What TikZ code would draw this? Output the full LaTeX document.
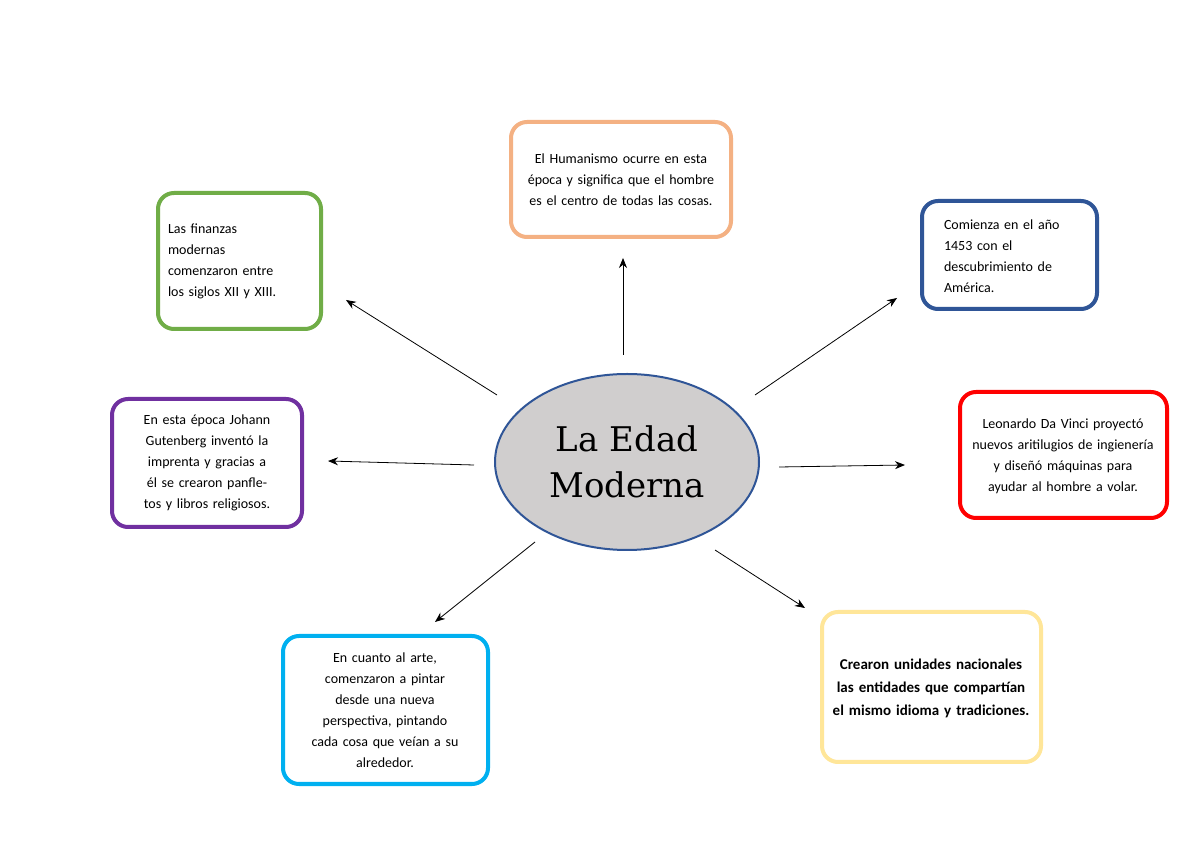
\documentclass[tikz,border=0pt]{standalone}
\usepackage{fontspec}
\setmainfont{Carlito}
\newfontfamily\serifbig{DejaVu Serif}
\usetikzlibrary{arrows.meta,shapes.geometric}
\definecolor{corange}{HTML}{F4B183}
\definecolor{cgreen}{HTML}{70AD47}
\definecolor{cdblue}{HTML}{2F5597}
\definecolor{cred}{HTML}{FF0000}
\definecolor{cpurple}{HTML}{7030A0}
\definecolor{ccyan}{HTML}{00B0F0}
\definecolor{cyellow}{HTML}{FFE699}
\definecolor{cgray}{HTML}{D0CECE}
\tikzset{
 box/.style={draw,line width=2pt,rounded corners=8pt,inner sep=0pt},
 txt/.style={font=\fontsize{7}{10.5}\selectfont,align=center},
 arr/.style={-{Stealth[length=5pt,width=4pt]},line width=0.4pt}
}
\begin{document}
\begin{tikzpicture}[x=0.5pt,y=-0.5pt]
\useasboundingbox (0,0) rectangle (1200,849);
\fill[white] (0,0) rectangle (1200,849);
\node[draw=cdblue,line width=1pt,fill=cgray,ellipse,minimum width=132pt,minimum height=88pt,inner sep=0pt,align=center,font=\serifbig\fontsize{17}{23}\selectfont] (c) at (627,462) {La Edad\\Moderna};

\draw[box,draw=corange] (511,122) rectangle (731,237);
\node[txt,text width=100pt] (h) at (621,180) {El Humanismo ocurre en esta época y significa que el hombre es el centro de todas las cosas.};
\draw[box,draw=cgreen] (158,193) rectangle (321,329);
\node[txt,align=left,text width=68pt] (f) at (236,261) {Las finanzas\\modernas\\comenzaron entre\\los siglos XII y XIII.};
\draw[box,draw=cdblue] (922,201) rectangle (1097,309);
\node[txt,align=left,text width=70pt] (a) at (1014,256) {Comienza en el año\\1453 con el\\descubrimiento de\\América.};
\draw[box,draw=cred] (960,392) rectangle (1167,518);
\node[txt,text width=92pt] (l) at (1063,456) {Leonardo Da Vinci proyectó nuevos aritilugios de ingienería y diseñó máquinas para ayudar al hombre a volar.};
\draw[box,draw=cpurple] (112,399) rectangle (302,527);
\node[txt,text width=84pt] (g) at (207,463) {En esta época Johann Gutenberg inventó la imprenta y gracias a él se crearon panfletos y libros religiosos.};
\draw[box,draw=ccyan] (283,636) rectangle (488,784);
\node[txt,text width=86pt] (ar) at (385,710) {En cuanto al arte,\\comenzaron a pintar\\desde una nueva\\perspectiva, pintando\\cada cosa que veían a su\\alrededor.};
\draw[box,draw=cyellow] (822,612) rectangle (1041,762);
\node[txt,font=\fontsize{7.5}{11.5}\selectfont\bfseries,text width=100pt] (u) at (931,688) {Crearon unidades nacionales las entidades que compartían el mismo idioma y tradiciones.};

\coordinate (s1) at (623,355); \coordinate (e1) at (623,258);
\coordinate (s2) at (497,395); \coordinate (e2) at (346,300);
\coordinate (s3) at (755,395); \coordinate (e3) at (897,298);
\coordinate (s4) at (474,465); \coordinate (e4) at (328,461);
\coordinate (s5) at (779,467); \coordinate (e5) at (905,465);
\coordinate (s6) at (535,542); \coordinate (e6) at (435,622);
\coordinate (s7) at (715,550); \coordinate (e7) at (805,608);
\foreach \i in {1,...,7} \draw[arr] (s\i) -- (e\i);
\end{tikzpicture}
\end{document}
